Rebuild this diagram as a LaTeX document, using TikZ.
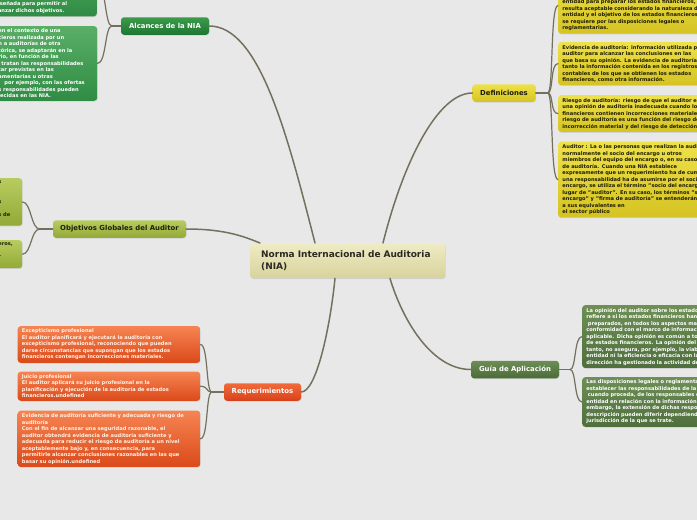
\documentclass[tikz,border=0pt]{standalone}
\usepackage{fontspec}
\setmainfont{DejaVu Sans}
\usetikzlibrary{shadows}
\definecolor{canvas}{HTML}{E8E8E8}
\definecolor{wire}{HTML}{74705E}
\definecolor{rootA}{HTML}{EFEBC4}
\definecolor{rootB}{HTML}{D8D39C}
\definecolor{rootink}{HTML}{2A2A22}
\definecolor{alcA}{HTML}{3A9C4A}
\definecolor{alcB}{HTML}{1E7532}
\definecolor{alcleafA}{HTML}{5AAE66}
\definecolor{alcleafB}{HTML}{2F8C44}
\definecolor{objA}{HTML}{B7CC5E}
\definecolor{objB}{HTML}{92AA38}
\definecolor{objink}{HTML}{1F2308}
\definecolor{defA}{HTML}{EEE14A}
\definecolor{defB}{HTML}{D5C322}
\definecolor{defink}{HTML}{1E1C05}
\definecolor{reqA}{HTML}{F36B3A}
\definecolor{reqB}{HTML}{D6421A}
\definecolor{reqleafA}{HTML}{F68452}
\definecolor{reqleafB}{HTML}{DB4A1A}
\definecolor{reqink}{HTML}{FFF2E6}
\definecolor{guiaA}{HTML}{6E8E56}
\definecolor{guiaB}{HTML}{4A6A38}
\definecolor{guialeafA}{HTML}{6F8F57}
\definecolor{guialeafB}{HTML}{4E6E3C}

\newcommand{\rootfont}{\fontsize{9}{11.6}\selectfont\bfseries}
\newcommand{\topicfont}{\fontsize{6.9}{8}\selectfont\bfseries}
\newcommand{\leaffont}{\fontsize{5.1}{6.5}\selectfont\bfseries}

\tikzset{
  card/.style={rounded corners=3pt, drop shadow={shadow xshift=0.5pt, shadow yshift=-0.8pt, opacity=0.22}},
  topic/.style={card, font=\topicfont, inner sep=0pt, minimum height=17.5pt},
  leaf/.style={card, font=\leaffont, align=left, inner xsep=4.25pt, inner ysep=2.8pt, anchor=north west},
  link/.style={draw=wire, line width=1.5pt, line cap=round},
  fork/.style={draw=wire, line width=1.2pt, line cap=round},
}

\begin{document}
\begin{tikzpicture}[x=1pt, y=-1pt]
  \useasboundingbox (0,0) rectangle (697,520);
  \clip (0,0) rectangle (697,520);
  \fill[canvas] (0,0) rectangle (697,520);

  % Root
  \node[card, top color=rootA, bottom color=rootB, font=\rootfont, text=rootink, align=left,
        anchor=north west, text width=173pt, inner xsep=11pt, minimum height=35pt] (nia) at (250,243)
        {Norma Internacional de Auditoria\\(NIA)};

  % Branches
  \node[topic, top color=alcA, bottom color=alcB, text=white, minimum width=88pt] (alc) at (165,26) {Alcances de la NIA};
  \node[topic, top color=objA, bottom color=objB, text=objink, minimum width=133pt] (obj) at (119.5,229) {Objetivos Globales del Auditor};
  \node[topic, top color=defA, bottom color=defB, text=defink, minimum width=63pt] (def) at (504,93) {Definiciones};
  \node[topic, top color=reqA, bottom color=reqB, text=white, minimum width=77pt] (req) at (262.5,392) {Requerimientos};
  \node[topic, top color=guiaA, bottom color=guiaB, text=white, minimum width=88pt] (guia) at (515,369.5) {Guía de Aplicación};

  % Alcances leaves
  \node[leaf, top color=alcleafA, bottom color=alcleafB, text=white, text width=94.5pt, anchor=south east] (a1) at (97,16.5)
    {\mbox{}\\[40pt]specto a la naturaleza y el\\iseñada para permitir al\\anzar dichos objetivos.};
  \node[leaf, top color=alcleafA, bottom color=alcleafB, text=white, text width=94.5pt] (a2) at (-6,26)
    {en el contexto de una\\cieros realizada por un\\n a auditorías de otra\\tórica, se adaptarán en la\\rio, en función de las\\
     \hspace{3pt}tratan las responsabilidades\\tar previstas en las\\amentarias u otras\\\hspace{6pt}por ejemplo, con las ofertas\\
     s responsabilidades pueden\\lecidas en las NIA.};

  % Objetivos leaves
  \node[leaf, top color=objA, bottom color=objB, text=objink, text width=19.5pt] (oa) at (-6,178)
    {s\\\mbox{}\\\mbox{}\\s\\\mbox{}\\s de\\\mbox{}};
  \node[leaf, top color=objA, bottom color=objB, text=objink, text width=19.5pt] (ob) at (-6,240)
    {eros,\\\mbox{}\\r\\\mbox{}};

  % Requerimientos leaves
  \node[leaf, top color=reqleafA, bottom color=reqleafB, text=reqink, text width=174pt] (r1) at (17.5,326)
    {Excepticismo profesional\\El auditor planificará y ejecutará la auditoría con\\excepticismo profesional, reconociendo que pueden\\
     darse circunstancias que supongan que los estados\\financieros contengan incorrecciones materiales.};
  \node[leaf, top color=reqleafA, bottom color=reqleafB, text=reqink, text width=174pt] (r2) at (17.5,371.5)
    {Juicio profesional\\El auditor aplicará su juicio profesional en la\\planificación y ejecución de la auditoría de estados\\
     financieros.undefined};
  \node[leaf, top color=reqleafA, bottom color=reqleafB, text=reqink, text width=174pt] (r3) at (17.5,410.5)
    {Evidencia de auditoría suficiente y adecuada y riesgo de\\auditoría\\Con el fin de alcanzar una seguridad razonable, el\\
     auditor obtendrá evidencia de auditoría suficiente y\\adecuada para reducir el riesgo de auditoría a un nivel\\
     aceptablemente bajo y, en consecuencia, para\\permitirle alcanzar conclusiones razonables en las que\\
     basar su opinión.undefined};

  % Definiciones leaves
  \node[leaf, top color=defA, bottom color=defB, text=defink, text width=200pt] (d1) at (558,-22.8)
    {Marco de información financiera aplicable: marco de\\información financiera adoptado por la dirección y,\\
     cuando proceda, por los responsables del gobierno de la\\entidad para preparar los estados financieros, que\\
     resulta aceptable considerando la naturaleza de la\\entidad y el objetivo de los estados financieros, o que\\
     se requiere por las disposiciones legales o\\reglamentarias.};
  \node[leaf, top color=defA, bottom color=defB, text=defink, text width=200pt] (d2) at (558,42)
    {Evidencia de auditoría: información utilizada por el\\auditor para alcanzar las conclusiones en las\\
     que basa su opinión. La evidencia de auditoría incluye\\tanto la información contenida en los registros\\
     contables de los que se obtienen los estados\\financieros, como otra información.};
  \node[leaf, top color=defA, bottom color=defB, text=defink, text width=200pt] (d3) at (558,95)
    {Riesgo de auditoría: riesgo de que el auditor exprese\\una opinión de auditoría inadecuada cuando los estados\\
     financieros contienen incorrecciones materiales. El\\riesgo de auditoría es una función del riesgo de\\
     incorrección material y del riesgo de detección.};
  \node[leaf, top color=defA, bottom color=defB, text=defink, text width=200pt] (d4) at (558,141.5)
    {Auditor : La o las personas que realizan la auditoría,\\normalmente el socio del encargo u otros\\
     miembros del equipo del encargo o, en su caso, la firma\\de auditoría. Cuando una NIA establece\\
     expresamente que un requerimiento ha de cumplirse o\\una responsabilidad ha de asumirse por el socio del\\
     encargo, se utiliza el término "socio del encargo" en\\lugar de "auditor". En su caso, los términos "socio del\\
     encargo" y "firma de auditoría" se entenderán referidos\\a sus equivalentes en\\el sector público};

  % Guia leaves
  \node[leaf, top color=guialeafA, bottom color=guialeafB, text=white, text width=200pt] (g1) at (582,305)
    {La opinión del auditor sobre los estados financieros se\\refiere a si los estados financieros han sido\\
     \hspace{1.5pt}preparados, en todos los aspectos materiales, de\\conformidad con el marco de información financiera\\
     aplicable. Dicha opinión es común a todas las auditorías\\de estados financieros. La opinión del auditor, por\\
     tanto, no asegura, por ejemplo, la viabilidad futura de la\\entidad ni la eficiencia o eficacia con la que la\\
     dirección ha gestionado la actividad de la entidad.};
  \node[leaf, top color=guialeafA, bottom color=guialeafB, text=white, text width=200pt] (g2) at (582,377)
    {Las disposiciones legales o reglamentarias pueden\\establecer las responsabilidades de la dirección y,\\
     \hspace{1.5pt}cuando proceda, de los responsables del gobierno de la\\entidad en relación con la información financiera. Sin\\
     embargo, la extensión de dichas responsabilidades o su\\descripción pueden diferir dependiendo de la\\
     jurisdicción de la que se trate.};

  % Root links
  \draw[link] ([xshift=65pt]nia.north west) .. controls +(-28,-110) and +(50,0) .. (alc.east);
  \draw[link] ([xshift=10pt]nia.north west) .. controls +(-15,-6) and +(40,0) .. (obj.east);
  \draw[link] ([xshift=133pt]nia.north west) .. controls +(20,-80) and +(-35,0) .. (def.west);
  \draw[link] ([xshift=85pt]nia.south west) .. controls +(-5,50) and +(15,0) .. (req.east);
  \draw[link] ([xshift=140pt]nia.south west) .. controls +(12,40) and +(-40,0) .. (guia.west);

  % Forks to leaves
  \coordinate (alcfork) at ([xshift=-9pt]alc.west);
  \coordinate (objfork) at ([xshift=-13pt]obj.west);
  \coordinate (reqfork) at ([xshift=-12pt]req.west);
  \coordinate (deffork) at ([xshift=12pt]def.east);
  \coordinate (guiafork) at ([xshift=11pt]guia.east);
  \draw[fork] (alc.west) -- (alcfork);
  \draw[fork] (obj.west) -- (objfork);
  \draw[fork] (req.west) -- (reqfork);
  \draw[fork] (def.east) -- (deffork);
  \draw[fork] (guia.east) -- (guiafork);
  \foreach \leafnode in {a1,a2} {
    \draw[fork] (alcfork) .. controls +(-7,0) and +(9,0) .. (\leafnode.east);
  }
  \foreach \leafnode in {oa,ob} {
    \draw[fork] (objfork) .. controls +(-9,0) and +(9,0) .. (\leafnode.east);
  }
  \foreach \leafnode in {r1,r2,r3} {
    \draw[fork] (reqfork) .. controls +(-6,0) and +(8,0) .. (\leafnode.east);
  }
  \foreach \leafnode in {d1,d2,d3,d4} {
    \draw[fork] (deffork) .. controls +(6,0) and +(-8,0) .. (\leafnode.west);
  }
  \foreach \leafnode in {g1,g2} {
    \draw[fork] (guiafork) .. controls +(6,0) and +(-8,0) .. (\leafnode.west);
  }
\end{tikzpicture}
\end{document}
